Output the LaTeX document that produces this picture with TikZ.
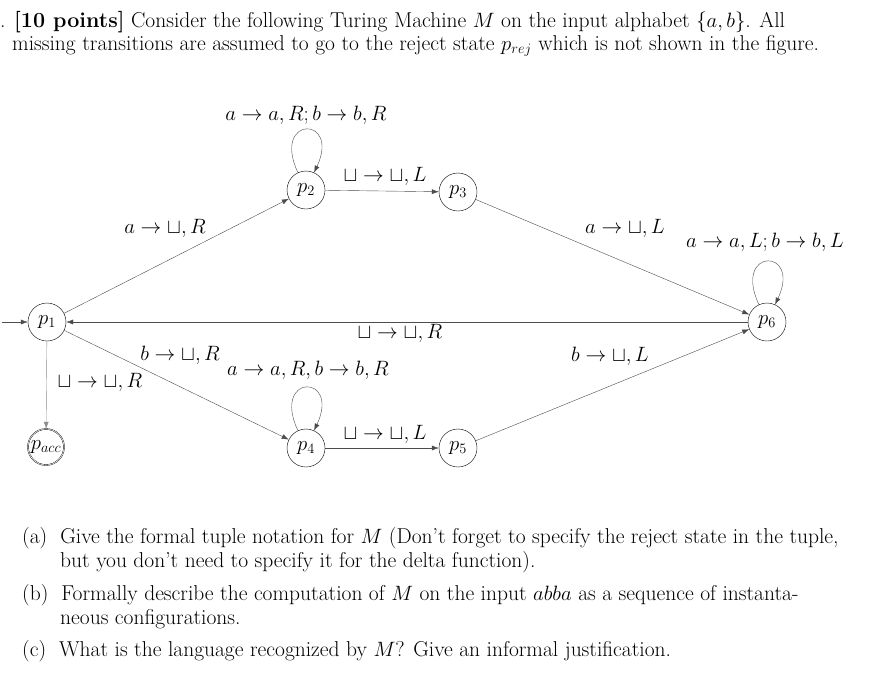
\documentclass[tikz,border=0pt]{standalone}
\usetikzlibrary{arrows.meta}
\begin{document}
\begin{tikzpicture}[x=1pt,y=-1pt,
  st/.style={circle,draw,minimum size=38pt,inner sep=0pt,font=\fontsize{20}{24}\selectfont},
  acc/.style={circle,draw,double,minimum size=36pt,inner sep=0pt,font=\fontsize{20}{24}\selectfont},
  tr/.style={-{Latex[length=7pt,width=5pt]},draw=black!70},
  lab/.style={font=\fontsize{20}{24}\selectfont},
  txt/.style={anchor=west,font=\fontsize{21.5}{24}\selectfont,inner sep=0pt}]
\useasboundingbox (0,0) rectangle (883,688);
\node[txt] (t1) at (0,22) {. \textbf{[10 points]} Consider the following Turing Machine $M$ on the input alphabet $\{a,b\}$. All};
\node[txt] (t2) at (12,46) {missing transitions are assumed to go to the reject state $p_{rej}$ which is not shown in the figure.};
\node[st] (p1) at (47,322) {$p_1$};
\node[st] (p2) at (306,190) {$p_2$};
\node[st] (p3) at (458,192) {$p_3$};
\node[st] (p6) at (767,322) {$p_6$};
\node[st] (p4) at (306,448) {$p_4$};
\node[st] (p5) at (458,448) {$p_5$};
\node[acc] (pa) at (46,447) {$p_{acc}$};
\coordinate (start) at (2,322);
\draw[tr] (start) -- (p1);
\draw[tr] (p1) -- (p2);
\draw[tr] (p2) -- (p3);
\draw[tr] (p3) -- (p6);
\draw[tr] (p6) -- (p1);
\draw[tr] (p1) -- (p4);
\draw[tr] (p4) -- (p5);
\draw[tr] (p5) -- (p6);
\draw[tr,draw=black!45] (p1) -- (pa);
\draw[tr] (p2) to[out=115,in=65,looseness=10] (p2);
\draw[tr] (p4) to[out=115,in=65,looseness=10] (p4);
\draw[tr] (p6) to[out=115,in=65,looseness=10] (p6);
\node[lab] (l1) at (165,228) {$a\rightarrow\sqcup,R$};
\node[lab] (l2) at (306,115) {$a\rightarrow a,R;b\rightarrow b,R$};
\node[lab] (l3) at (385,176) {$\sqcup\rightarrow\sqcup,L$};
\node[lab] (l4) at (625,228) {$a\rightarrow\sqcup,L$};
\node[lab] (l5) at (765,242) {$a\rightarrow a,L;b\rightarrow b,L$};
\node[lab] (l6) at (400,333) {$\sqcup\rightarrow\sqcup,R$};
\node[lab] (l7) at (180,355) {$b\rightarrow\sqcup,R$};
\node[lab] (l8) at (308,370) {$a\rightarrow a,R,b\rightarrow b,R$};
\node[lab] (l9) at (385,434) {$\sqcup\rightarrow\sqcup,L$};
\node[lab] (l10) at (610,356) {$b\rightarrow\sqcup,L$};
\node[lab] (l11) at (100,382) {$\sqcup\rightarrow\sqcup,R$};
\node[txt] (a1) at (22,538) {(a)\ \ Give the formal tuple notation for $M$ (Don't forget to specify the reject state in the tuple,};
\node[txt] (a2) at (60,562) {but you don't need to specify it for the delta function).};
\node[txt] (b1) at (22,595) {(b)\ \ Formally describe the computation of $M$ on the input $abba$ as a sequence of instanta-};
\node[txt] (b2) at (60,619) {neous configurations.};
\node[txt] (c1) at (22,651) {(c)\ \ What is the language recognized by $M$? Give an informal justification.};
\end{tikzpicture}
\end{document}
